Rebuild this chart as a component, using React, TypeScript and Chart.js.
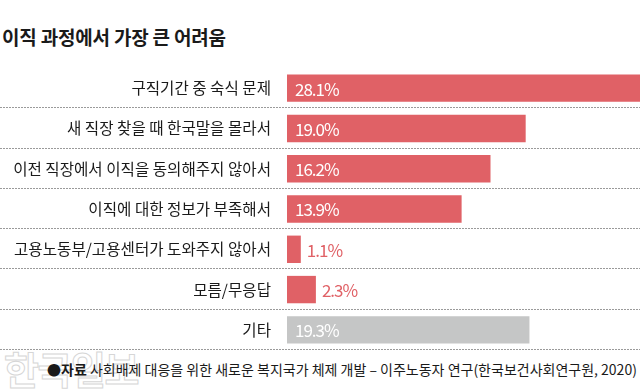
import React, { useEffect, useRef } from "react";
import { Chart, registerables } from "chart.js";

Chart.register(...registerables);

const title = "이직 과정에서 가장 큰 어려움";
const categories = [
  "구직기간 중 숙식 문제",
  "새 직장 찾을 때 한국말을 몰라서",
  "이전 직장에서 이직을 동의해주지 않아서",
  "이직에 대한 정보가 부족해서",
  "고용노동부/고용센터가 도와주지 않아서",
  "모름/무응답",
  "기타",
];
const values = [28.1, 19.0, 16.2, 13.9, 1.1, 2.3, 19.3];
const otherCategory = "기타";
const sourceLabel = "자료";
const sourceText = "사회배제 대응을 위한 새로운 복지국가 체제 개발 – 이주노동자 연구(한국보건사회연구원, 2020)";
const watermark = "한국일보";

const RED = "#E06166";
const GRAY = "#C5C6C6";
const FONT = "'Noto Sans CJK KR', 'Noto Sans', sans-serif";

const separatorPlugin = {
  id: "separators",
  beforeDatasetsDraw(chart: any) {
    const { ctx } = chart;
    const y = chart.scales.y;
    const n = categories.length;
    ctx.save();
    ctx.strokeStyle = "#9a9a9a";
    ctx.lineWidth = 1;
    ctx.setLineDash([2, 1]);
    for (let i = 0; i < n; i++) {
      const a = y.getPixelForValue(i);
      const b = i < n - 1 ? y.getPixelForValue(i + 1) : a + (a - y.getPixelForValue(i - 1));
      const yy = Math.round((a + b) / 2) - 0.5;
      ctx.beginPath();
      ctx.moveTo(0, yy);
      ctx.lineTo(chart.width, yy);
      ctx.stroke();
    }
    ctx.restore();
  },
};

const valueLabelPlugin = {
  id: "valueLabels",
  afterDatasetsDraw(chart: any) {
    const { ctx } = chart;
    const meta = chart.getDatasetMeta(0);
    ctx.save();
    ctx.font = `17px ${FONT}`;
    (ctx as any).letterSpacing = "-1px";
    ctx.textBaseline = "middle";
    ctx.textAlign = "left";
    meta.data.forEach((bar: any, i: number) => {
      const v = values[i];
      const label = v.toFixed(1) + "%";
      if (v >= 5) {
        ctx.fillStyle = "#ffffff";
        ctx.fillText(label, bar.base + 8, bar.y + 1);
      } else {
        ctx.fillStyle = RED;
        ctx.fillText(label, bar.x + 6, bar.y + 1);
      }
    });
    ctx.restore();
  },
};

export default function App() {
  const ref = useRef<HTMLCanvasElement>(null);

  useEffect(() => {
    if (!ref.current) return;
    const chart = new Chart(ref.current, {
      type: "bar",
      data: {
        labels: categories,
        datasets: [
          {
            data: values,
            backgroundColor: categories.map((c) => (c === otherCategory ? GRAY : RED)),
            borderWidth: 0,
            barPercentage: 0.68,
            categoryPercentage: 1,
          },
        ],
      },
      options: {
        indexAxis: "y",
        animation: false,
        responsive: true,
        maintainAspectRatio: false,
        layout: { padding: { top: 0, bottom: 2, left: 0, right: 0 } },
        plugins: {
          legend: { display: false },
          tooltip: { enabled: false },
        },
        scales: {
          x: { display: false, min: 0, max: 28.1 },
          y: {
            grid: { display: false, drawTicks: false },
            border: { display: false },
            ticks: {
              color: "#1a1a1a",
              padding: 16,
              font: { size: 15.6, family: FONT },
            },
            afterFit: (scale: any) => {
              scale.width = 287;
              scale.paddingTop = 0;
              scale.paddingBottom = 0;
            },
          },
        },
      },
      plugins: [separatorPlugin, valueLabelPlugin],
    });
    return () => chart.destroy();
  }, []);

  return (
    <div
      style={{
        position: "fixed",
        left: 0,
        top: 0,
        width: 640,
        height: 392,
        background: "#fff",
        overflow: "hidden",
        fontFamily: FONT,
      }}
    >
      <div
        style={{
          position: "absolute",
          left: 2,
          top: 26,
          fontSize: 19,
          lineHeight: "22px",
          fontWeight: 700,
          color: "#1a1a1a",
          letterSpacing: -0.2,
          whiteSpace: "nowrap",
        }}
      >
        {title}
      </div>
      <div
        style={{
          position: "absolute",
          left: 4,
          top: 345,
          fontSize: 38,
          lineHeight: "46px",
          fontWeight: 700,
          color: "transparent",
          WebkitTextStroke: "1px #d6d6d6",
          letterSpacing: -1.5,
          whiteSpace: "nowrap",
        }}
      >
        {watermark}
      </div>
      <div style={{ position: "absolute", left: 0, top: 68, width: 640, height: 284 }}>
        <canvas ref={ref} />
      </div>
      <div
        style={{
          position: "absolute",
          left: 47,
          top: 360,
          fontSize: 14,
          lineHeight: "18px",
          color: "#1a1a1a",
          letterSpacing: 0,
          whiteSpace: "nowrap",
        }}
      >
        <span>●</span>
        <b>{sourceLabel}</b> {sourceText}
      </div>
    </div>
  );
}
